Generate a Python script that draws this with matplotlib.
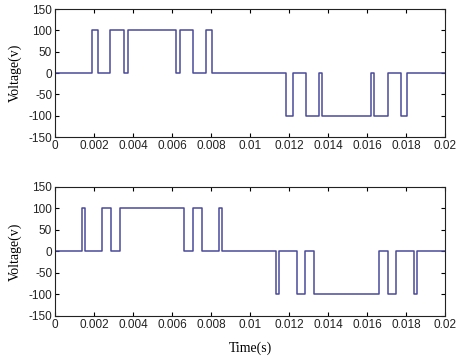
import matplotlib
matplotlib.use("Agg")
import matplotlib.pyplot as plt
import numpy as np

# transition times (s) and levels (V) for the two stepped waveforms
top_times = [0, 0.00188, 0.00220, 0.00284, 0.00356, 0.00373, 0.00622, 0.00641, 0.00709, 0.00773, 0.00807,
             0.01185, 0.01220, 0.01285, 0.01352, 0.01369, 0.01619, 0.01638, 0.01707, 0.01772, 0.01804, 0.02]
top_levels = [0, 100, 0, 100, 0, 100, 0, 100, 0, 100, 0,
              -100, 0, -100, 0, -100, 0, -100, 0, -100, 0, 0]

bot_times = [0, 0.00137, 0.00152, 0.00243, 0.00285, 0.00332, 0.00663, 0.00709, 0.00752, 0.00843, 0.00858,
             0.01134, 0.01149, 0.01242, 0.01283, 0.01329, 0.01660, 0.01707, 0.01748, 0.01840, 0.01856, 0.02]
bot_levels = [0, 100, 0, 100, 0, 100, 0, 100, 0, 100, 0,
              -100, 0, -100, 0, -100, 0, -100, 0, -100, 0, 0]

xticks = [0, 0.002, 0.004, 0.006, 0.008, 0.01, 0.012, 0.014, 0.016, 0.018, 0.02]
xticklabels = ["0", "0.002", "0.004", "0.006", "0.008", "0.01", "0.012", "0.014", "0.016", "0.018", "0.02"]
yticks = [-150, -100, -50, 0, 50, 100, 150]
yticklabels = ["-150", "-100", "-50", "0", "50", "100", "150"]

line_color = "#4a4a9c"
tick_font = "Liberation Sans"
label_font = "Liberation Serif"

fig = plt.figure(figsize=(4.74, 3.61), dpi=100)
left, width = 0.116, 0.823
ax1 = fig.add_axes([left, 0.620, width, 0.355])
ax2 = fig.add_axes([left, 0.125, width, 0.357])

for ax, t, v in [(ax1, top_times, top_levels), (ax2, bot_times, bot_levels)]:
    ax.plot(t, v, drawstyle="steps-post", color=line_color, lw=1.1)
    ax.set_xlim(0, 0.02)
    ax.set_ylim(-150, 150)
    ax.set_xticks(xticks)
    ax.set_xticklabels(xticklabels, fontfamily=tick_font, fontsize=8.5, color="#222222")
    ax.set_yticks(yticks)
    ax.set_yticklabels(yticklabels, fontfamily=tick_font, fontsize=8.5, color="#222222")
    ax.tick_params(direction="in", top=True, right=True, length=3, width=0.8, pad=2)
    for s in ax.spines.values():
        s.set_linewidth(0.8)
        s.set_color("#222222")
    ax.set_ylabel("Voltage(v)", fontfamily=label_font, fontsize=10, labelpad=5)

ax2.set_xlabel("Time(s)", fontfamily=label_font, fontsize=10, labelpad=8)

fig.savefig("out.png", dpi=100)
